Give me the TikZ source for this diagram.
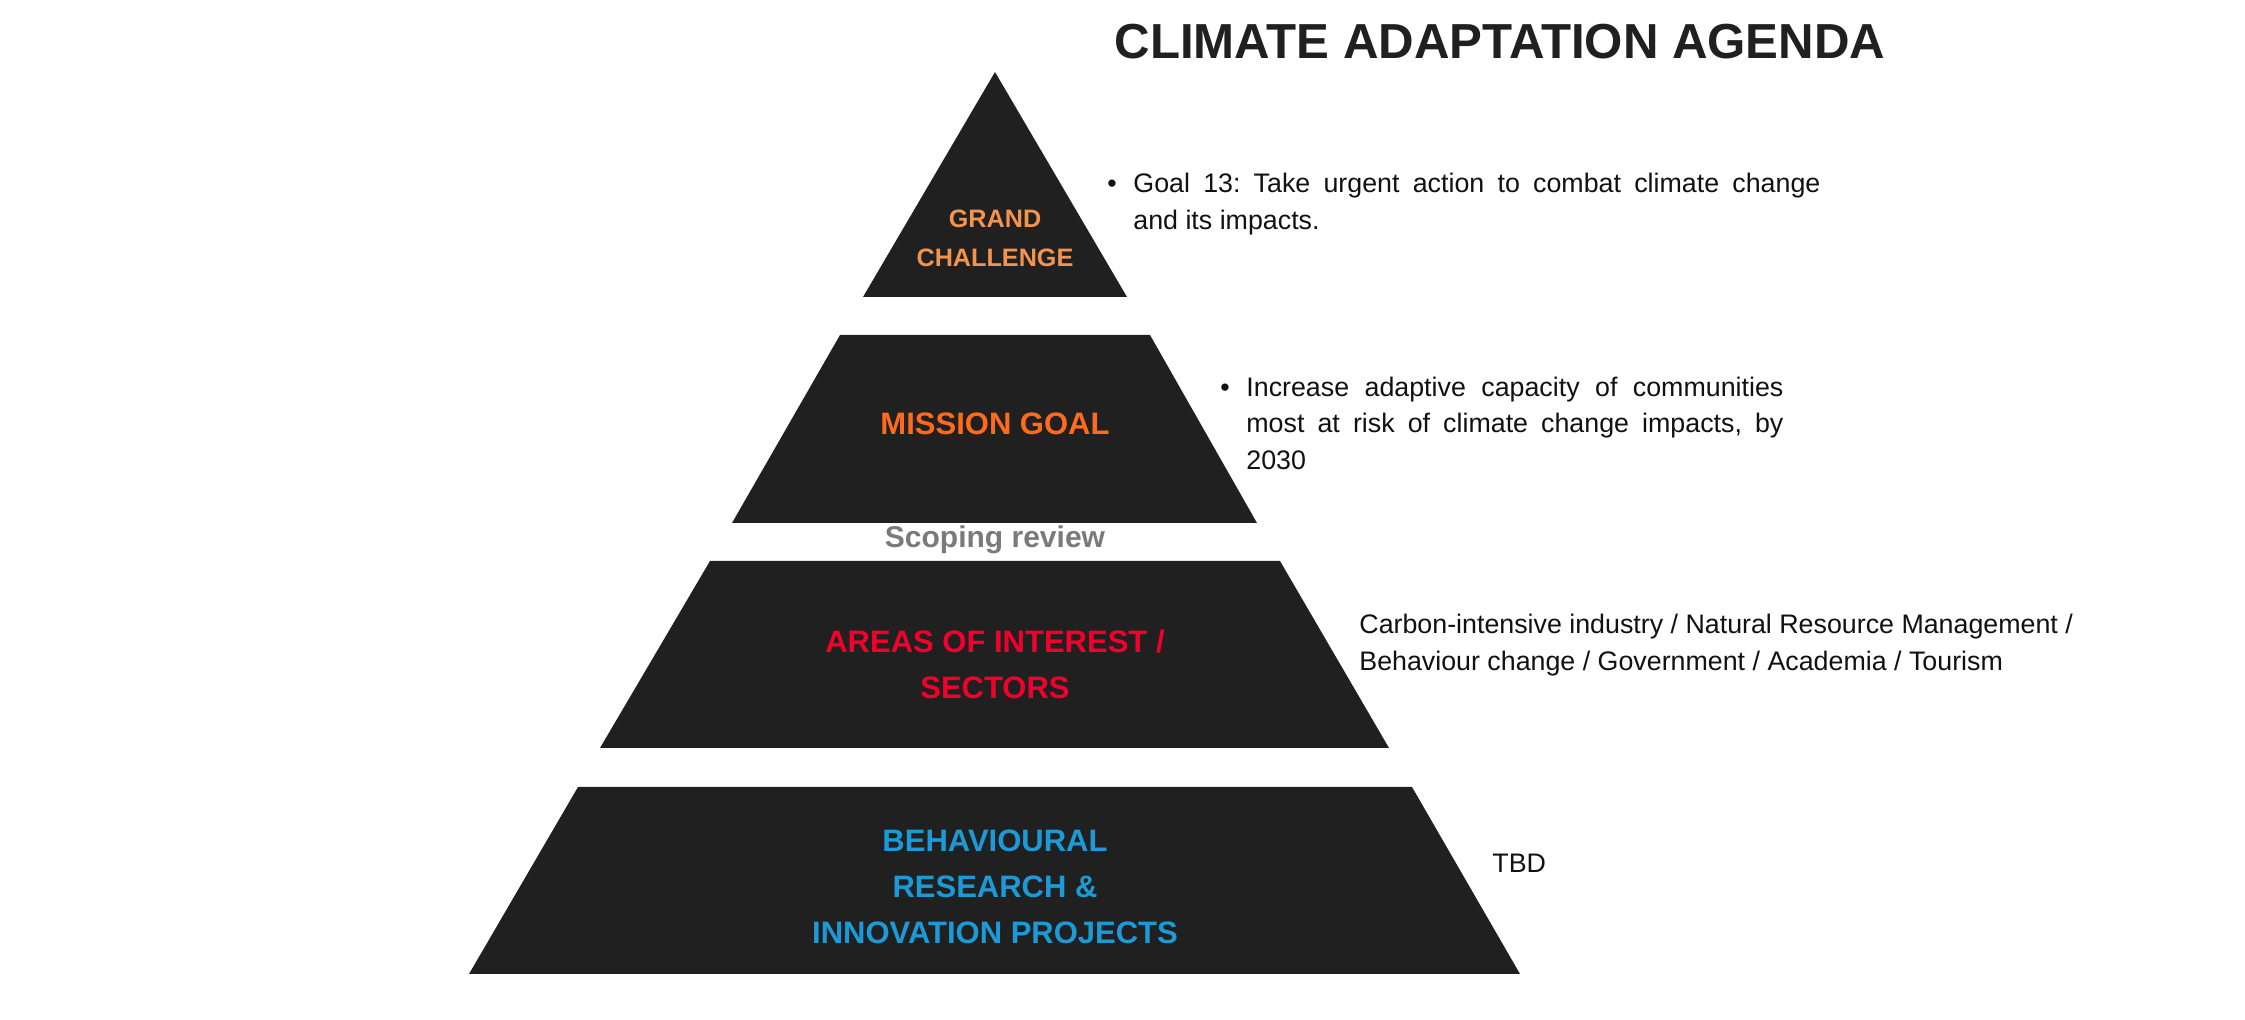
\documentclass[tikz,border=0pt]{standalone}
\usepackage{fontspec}
\setmainfont{Liberation Sans}
\frenchspacing
\definecolor{pyrfill}{HTML}{202020}
\definecolor{grandc}{HTML}{F4944C}
\definecolor{missionc}{HTML}{FF6A1C}
\definecolor{areasc}{HTML}{F2002D}
\definecolor{behavc}{HTML}{1C9AD8}
\definecolor{scopec}{HTML}{7A7A7A}
\definecolor{bodyc}{HTML}{111111}
\begin{document}
\begin{tikzpicture}[x=0.5pt,y=-0.5pt,
  tier/.style={fill=pyrfill},
  lbl/.style={anchor=base,inner sep=0pt,font=\fontsize{15.5}{18}\selectfont\bfseries},
  body/.style={anchor=base west,inner sep=0pt,text=bodyc,font=\fontsize{13.4}{16}\selectfont\frenchspacing},
  bul/.style={anchor=base,inner sep=0pt,text=bodyc,font=\fontsize{13.4}{16}\selectfont}]
\useasboundingbox (0,0) rectangle (2245,1020);
% pyramid tiers
\fill[tier] (995,72) -- (1127,297) -- (863,297) -- cycle;
\fill[tier] (840,335) -- (1150,335) -- (1257,523) -- (732,523) -- cycle;
\fill[tier] (710,561) -- (1280,561) -- (1389,748) -- (600,748) -- cycle;
\fill[tier] (578,787) -- (1412,787) -- (1520,974) -- (469,974) -- cycle;
% title
\node[anchor=base,inner sep=0pt,text=pyrfill,font=\fontsize{24.6}{29}\selectfont\bfseries] (title) at (1500,59) {CLIMATE ADAPTATION AGENDA};
% tier labels
\node[lbl,text=grandc,font=\fontsize{12.6}{15}\selectfont\bfseries] (grand1) at (995,228) {GRAND};
\node[lbl,text=grandc,font=\fontsize{12.6}{15}\selectfont\bfseries] (grand2) at (995,267) {CHALLENGE};
\node[lbl,text=missionc] (mission) at (995,435) {MISSION GOAL};
\node[lbl,text=scopec,font=\fontsize{15}{18}\selectfont\bfseries] (scoping) at (995,548) {Scoping review};
\node[lbl,text=areasc] (areas1) at (995,653) {AREAS OF INTEREST /};
\node[lbl,text=areasc] (areas2) at (995,699) {SECTORS};
\node[lbl,text=behavc] (beh1) at (995,852) {BEHAVIOURAL};
\node[lbl,text=behavc] (beh2) at (995,898) {RESEARCH \&};
\node[lbl,text=behavc] (beh3) at (995,944) {INNOVATION PROJECTS};
% side texts
\node[bul] (gbul) at (1112,193) {\textbullet};
\node[body] (goal1) at (1133,193) {\makebox[343.5pt][s]{Goal 13: Take urgent action to combat climate change}};
\node[body] (goal2) at (1133,230) {and its impacts.};
\node[bul] (mbul) at (1225,397) {\textbullet};
\node[body] (mis1) at (1246,397) {\makebox[268.5pt][s]{Increase adaptive capacity of communities}};
\node[body] (mis2) at (1246,433) {\makebox[268.5pt][s]{most at risk of climate change impacts, by}};
\node[body] (mis3) at (1246,470) {2030};
\node[body] (sec1) at (1359,634) {Carbon-intensive industry / Natural Resource Management /};
\node[body] (sec2) at (1359,671) {Behaviour change / Government / Academia / Tourism};
\node[body] (tbd) at (1492,873) {TBD};
\end{tikzpicture}
\end{document}
